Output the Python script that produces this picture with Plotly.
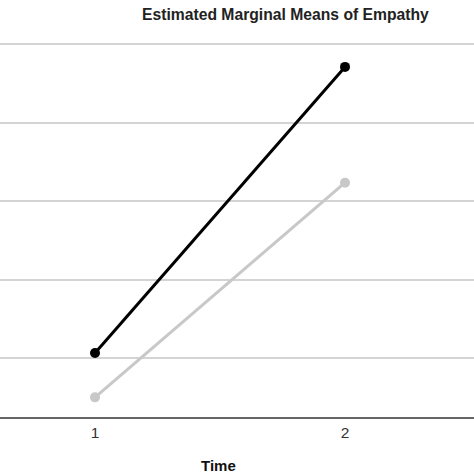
import plotly.graph_objects as go

time_points = [1, 2]
group_a = [30.13, 37.42]   # black line
group_b = [29.0, 34.47]    # gray line
grid_vals = [30, 32, 34, 36, 38]
x_ticks = ["1", "2"]

fig = go.Figure()
fig.add_trace(go.Scatter(x=time_points, y=group_b, mode="lines+markers",
                         line=dict(color="#c8c8c8", width=3),
                         marker=dict(color="#c8c8c8", size=10), showlegend=False))
fig.add_trace(go.Scatter(x=time_points, y=group_a, mode="lines+markers",
                         line=dict(color="#000000", width=3),
                         marker=dict(color="#000000", size=10), showlegend=False))

fig.update_layout(
    width=474, height=474,
    margin=dict(l=0, r=0, t=40, b=57),
    paper_bgcolor="white", plot_bgcolor="white",
    font=dict(family="Liberation Sans, Arial, sans-serif", color="#222"),
    xaxis=dict(range=[0.62, 2.516], tickvals=time_points, ticktext=x_ticks,
               showgrid=False, zeroline=False, showline=True, linecolor="#666",
               linewidth=2, ticks="", tickfont=dict(size=15.5, color="#333")),
    yaxis=dict(range=[28.5, 38.105], tickvals=grid_vals, showticklabels=False,
               showgrid=True, gridcolor="#d4d4d4", gridwidth=1.5, zeroline=False,
               showline=False),
    annotations=[
        dict(text="<b>Estimated Marginal Means of Empathy</b>", x=285, y=14,
             xref="paper", yref="paper", showarrow=False,
             font=dict(size=15.7, color="#222")),
        dict(text="<b>Time</b>", x=218, y=465, xref="paper", yref="paper",
             showarrow=False, font=dict(size=15, color="#111")),
    ],
)
# convert pixel positions to paper coords
pw, ph = 474, 474 - 40 - 57
for a in fig.layout.annotations:
    px, py = a.x, a.y
    a.x = px / pw
    a.y = (474 - 57 - py) / ph
    a.xanchor = "center"
    a.yanchor = "middle"

fig.write_html("out.html")
